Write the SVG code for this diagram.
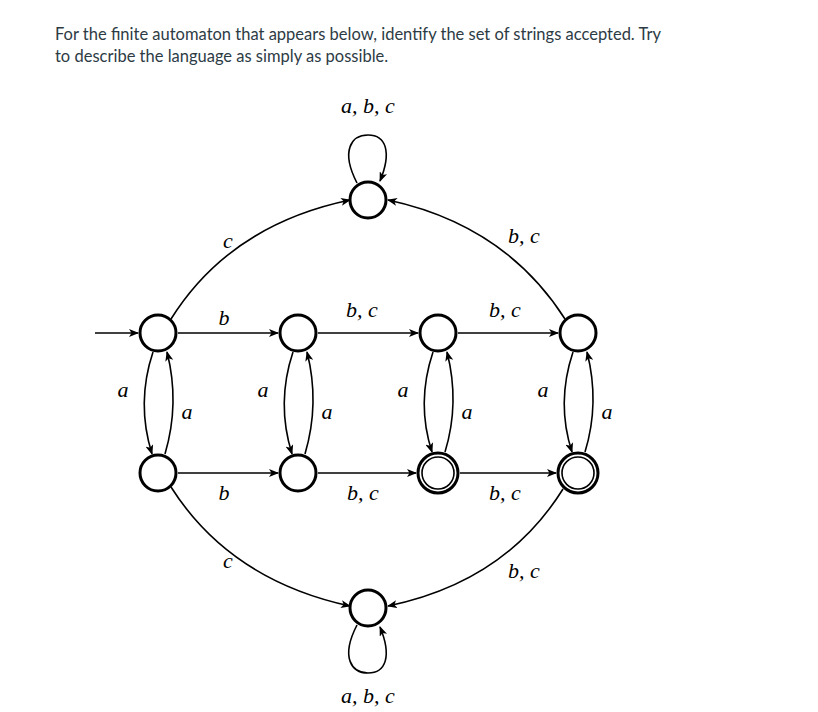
<svg xmlns="http://www.w3.org/2000/svg" width="818" height="712" viewBox="0 0 818 712">
<style>
.st{fill:#fff;stroke:#000;stroke-width:3}
.in{fill:none;stroke:#000;stroke-width:1.6}
.e{fill:none;stroke:#000;stroke-width:1.6;marker-end:url(#ah)}
.l{font-family:"Liberation Serif",serif;font-style:italic;font-size:22px;text-anchor:middle}
.q{font-family:Lato,"Liberation Sans",sans-serif;font-size:16.5px;fill:#2d3b45}
</style>
<defs><marker id="ah" markerWidth="10" markerHeight="8" refX="9" refY="4" orient="auto" markerUnits="userSpaceOnUse"><path d="M0,0 L10,4 L0,8 L2.5,4 z"/></marker></defs>
<rect width="818" height="712" fill="#fff"/>
<text class="q" x="55" y="40">For the finite automaton that appears below, identify the set of strings accepted.  Try</text>
<text class="q" x="55" y="62">to describe the language as simply as possible.</text>
<g id="edges">
<path class="e" d="M95,333 L138,333"/>
<path class="e" d="M178,333 L278,333"/><path class="e" d="M318,333 L418,333"/><path class="e" d="M458,333 L558,333"/>
<path class="e" d="M178,473 L278,473"/><path class="e" d="M318,473 L416,473"/><path class="e" d="M460,473 L556,473"/>
<path class="e" d="M153,352 Q136,403 152,454"/><path class="e" d="M165,454 Q180,403 167,352"/>
<path class="e" d="M293,352 Q276,403 292,454"/><path class="e" d="M305,454 Q320,403 307,352"/>
<path class="e" d="M433,352 Q416,403 432,452"/><path class="e" d="M445,452 Q460,403 447,352"/>
<path class="e" d="M573,352 Q556,403 572,452"/><path class="e" d="M585,452 Q600,403 587,352"/>
<path class="e" d="M171,319 Q230,225 350,200"/><path class="e" d="M565,319 Q505,225 388,200"/>
<path class="e" d="M171,487 Q230,580 350,606"/><path class="e" d="M563,489 Q505,582 388,606"/>
<path class="e" d="M357,183 C340,150 352,135 368,135 C386,135 392,152 380,181"/>
<path class="e" d="M357,625 C340,658 352,673 368,673 C386,673 392,656 380,627"/>
</g>
<g id="labels">
<text class="l" x="368" y="113">a, b, c</text>
<text class="l" x="368" y="703">a, b, c</text>
<text class="l" x="228" y="248">c</text><text class="l" x="524" y="243">b, c</text>
<text class="l" x="228" y="568">c</text><text class="l" x="524" y="578">b, c</text>
<text class="l" x="224" y="325">b</text><text class="l" x="362" y="317">b, c</text><text class="l" x="505" y="317">b, c</text>
<text class="l" x="224" y="500">b</text><text class="l" x="363" y="500">b, c</text><text class="l" x="505" y="500">b, c</text>
<text class="l" x="123" y="397">a</text><text class="l" x="187" y="419">a</text>
<text class="l" x="263" y="397">a</text><text class="l" x="327" y="419">a</text>
<text class="l" x="403" y="397">a</text><text class="l" x="467" y="419">a</text>
<text class="l" x="543" y="397">a</text><text class="l" x="607" y="419">a</text>
</g>
<g id="s_top"><circle class="st" cx="368" cy="200" r="18"/></g>
<g id="s_bot"><circle class="st" cx="368" cy="608" r="18"/></g>
<g id="s1"><circle class="st" cx="158" cy="333" r="18"/></g>
<g id="s2"><circle class="st" cx="298" cy="333" r="18"/></g>
<g id="s3"><circle class="st" cx="438" cy="333" r="18"/></g>
<g id="s4"><circle class="st" cx="578" cy="333" r="18"/></g>
<g id="s5"><circle class="st" cx="158" cy="473" r="18"/></g>
<g id="s6"><circle class="st" cx="298" cy="473" r="18"/></g>
<g id="s7"><circle class="st" cx="438" cy="473" r="20" stroke-width="2"/><circle class="in" cx="438" cy="473" r="16"/></g>
<g id="s8"><circle class="st" cx="578" cy="473" r="20" stroke-width="2"/><circle class="in" cx="578" cy="473" r="16"/></g>
</svg>
